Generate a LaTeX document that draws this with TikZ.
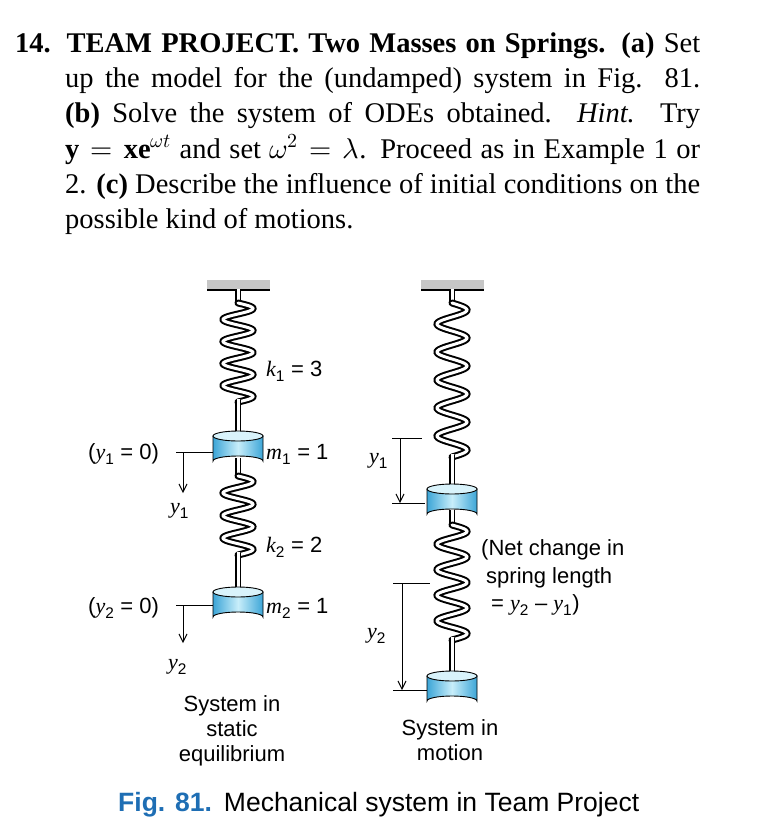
\documentclass[tikz,border=0pt]{standalone}
\usepackage{fontspec}
\usepackage{unicode-math}
\setmainfont{Liberation Serif}
\setsansfont{Liberation Sans}
\setmathfont{Latin Modern Math}
\usetikzlibrary{arrows.meta}
\definecolor{figblue}{RGB}{30,110,180}
\definecolor{mlight}{RGB}{200,238,250}
\definecolor{mdark}{RGB}{60,165,215}
\tikzset{
  hdr/.style={anchor=base west,inner sep=0pt,font=\fontsize{28.5}{30}\selectfont},
  lab/.style={anchor=base west,inner sep=0pt,font=\sffamily\fontsize{22}{24}\selectfont},
  captxt/.style={align=center,inner sep=0pt,font=\sffamily\fontsize{22}{25}\selectfont},
  arr/.style={-{Straight Barb[length=8pt,width=8pt]},line width=1pt},
  thinln/.style={line width=1pt}
}
\newcommand\vv[2]{{\rmfamily\itshape #1}\textsubscript{#2}}
\newcommand\myspring[4]{% x, y0, y1, turns
  \draw[line width=7pt,line cap=round] plot[smooth,samples=160,domain=#2:#3,variable=\t] ({#1+15*sin(360*#4*((\t-#2)/(#3-#2)))},\t);
  \draw[line width=3pt,white,line cap=round] plot[smooth,samples=160,domain=#2:#3,variable=\t] ({#1+15*sin(360*#4*((\t-#2)/(#3-#2)))},\t);
}
\newcommand\myrod[3]{%
  \draw[line width=6pt] (#1,#2)--(#1,#3);
  \draw[line width=3pt,white] (#1,#2-1)--(#1,#3+1);
}
\newcommand\mymass[2]{% center x, top y
  \shade[left color=mdark,right color=mdark,middle color=mlight,draw=black,line width=0.9pt]
    (#1-25,#2) -- (#1-25,#2+25) arc[start angle=180,end angle=360,x radius=25,y radius=5] -- (#1+25,#2) -- cycle;
  \draw[fill=mlight!70!white,line width=0.9pt] (#1,#2) ellipse[x radius=25,y radius=5];
}
\newcommand\myceil[2]{%
  \fill[gray!45] (#1-31,#2-10) rectangle (#1+32,#2);
  \draw[line width=1.4pt] (#1-31,#2)--(#1+32,#2);
}
\begin{document}
\begin{tikzpicture}[x=1pt,y=-1pt]
\useasboundingbox (0,0) rectangle (757,839);
% header
\node[hdr] (h1) at (15,52) {\hbox to 685pt{\textbf{14. TEAM PROJECT. Two Masses on Springs. (a)} Set}};
\node[hdr] (h2) at (65,87) {\hbox to 635pt{up the model for the (undamped) system in Fig. 81.}};
\node[hdr] (h3) at (65,122) {\hbox to 635pt{\textbf{(b)} Solve the system of ODEs obtained. \textit{Hint.} Try}};
\node[hdr] (h4) at (65,158) {\hbox to 635pt{$\mathbf{y}=\mathbf{x}\mathbf{e}^{\omega t}$ and set $\omega^2=\lambda$. Proceed as in Example 1 or}};
\node[hdr] (h5) at (65,193) {\hbox to 635pt{2. \textbf{(c)} Describe the influence of initial conditions on the}};
\node[hdr] (h6) at (65,228) {possible kind of motions.};
% left system
\myceil{238}{290}
\myrod{238}{290}{305}
\myspring{238}{303}{402}{4.5}
\myrod{238}{400}{434}
\myrod{238}{458}{478}
\myspring{238}{476}{555}{3.5}
\myrod{238}{553}{590}
\mymass{238}{436}
\mymass{238}{592}
\coordinate (m1) at (213,452);
\coordinate (m2) at (213,605);
\node[lab] (k1) at (266,376) {\vv{k}{1} = 3};
\node[lab] (lm1) at (266,459) {\vv{m}{1} = 1};
\node[lab] (k2) at (266,552) {\vv{k}{2} = 2};
\node[lab] (lm2) at (266,613) {\vv{m}{2} = 1};
\node[lab] (z1) at (88,459) {(\vv{y}{1} = 0)};
\node[lab] (z2) at (88,613) {(\vv{y}{2} = 0)};
\coordinate (a1) at (176,452);
\coordinate (a2) at (176,605);
\draw[thinln] (a1)--(m1);
\draw[thinln] (a2)--(m2);
\coordinate (a1s) at (183,452); \coordinate (a1e) at (183,493);
\coordinate (a2s) at (183,605); \coordinate (a2e) at (183,643);
\draw[arr] (a1s)--(a1e);
\draw[arr] (a2s)--(a2e);
\node[lab] (ly1) at (170,513) {\vv{y}{1}};
\node[lab] (ly2) at (168,669) {\vv{y}{2}};
\node[captxt] (c1) at (232,731) {System in\\static\\equilibrium};
% right system
\myceil{452}{290}
\myrod{452}{290}{305}
\myspring{452}{303}{457}{5.5}
\myrod{452}{455}{487}
\myrod{452}{510}{527}
\myspring{452}{525}{640}{4.5}
\myrod{452}{638}{674}
\mymass{452}{489}
\mymass{452}{676}
\coordinate (t1a) at (392,438); \coordinate (t1b) at (422,438);
\coordinate (t2a) at (392,503); \coordinate (t2b) at (425,503);
\draw[thinln] (t1a)--(t1b); \draw[thinln] (t2a)--(t2b);
\draw[arr] (400,438)--(400,503);
\node[lab] (ry1) at (369,463) {\vv{y}{1}};
\coordinate (t3a) at (393,583); \coordinate (t3b) at (430,583);
\coordinate (t4a) at (393,690); \coordinate (t4b) at (427,690);
\draw[thinln] (t3a)--(t3b); \draw[thinln] (t4a)--(t4b);
\draw[arr] (402,583)--(402,690);
\node[lab] (ry2) at (367,638) {\vv{y}{2}};
\node[lab] (n1) at (481,555) {(Net change in};
\node[lab] (n2) at (486,583) {spring length};
\node[lab] (n3) at (491,610) {= \vv{y}{2} – \vv{y}{1})};
\node[captxt] (c2) at (450,740) {System in\\motion};
% caption
\node[anchor=base west,inner sep=0pt,font=\sffamily\fontsize{26.5}{30}\selectfont] (fig) at (118,811)
  {\textcolor{figblue}{\textbf{Fig. 81.}}\hspace{12pt}Mechanical system in Team Project};
\end{tikzpicture}
\end{document}
